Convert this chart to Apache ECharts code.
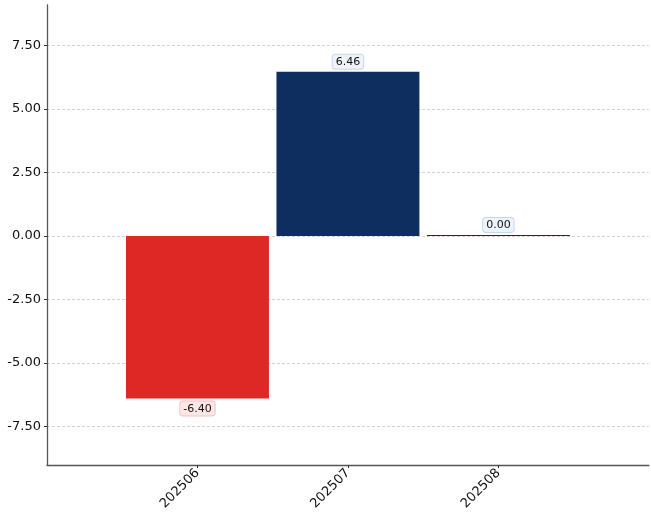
<!DOCTYPE html>
<html>
<head>
<meta charset="utf-8">
<script src="https://cdn.jsdelivr.net/npm/echarts@6/dist/echarts.min.js"></script>
<style>
  html, body { margin: 0; padding: 0; background: #fff; }
  #chart { width: 651px; height: 518px; }
</style>
</head>
<body>
<div id="chart"></div>
<script>
// months, padded with empty slots so the axis runs half a bar wider on each side
var months = ['', '202506', '202507', '202508', ''];
var values = [null, -6.40, 6.46, 0.00, null];
var yTicks = [-7.5, -5, -2.5, 0, 2.5, 5, 7.5];

var posColor = '#0d2e5e';
var negColor = '#de2826';

var barData = values.map(function (v) {
    if (v === null) return null;
    var neg = v < 0;
    return {
        value: v,
        itemStyle: { color: neg ? negColor : posColor },
        label: {
            position: neg ? 'bottom' : 'top',
            backgroundColor: neg ? '#fde6e6' : '#eef3fa',
            borderColor: neg ? '#f3c4c4' : '#c9d6e8'
        }
    };
});

var font = 'DejaVu Sans';

var option = {
    animation: false,
    grid: { left: 47, right: 0, top: 5, bottom: 53 },
    xAxis: {
        type: 'category',
        data: months,
        boundaryGap: false,
        axisLine: { onZero: false, lineStyle: { color: '#555', width: 1.3 } },
        axisTick: {
            length: 3,
            lineStyle: { color: '#333' },
            interval: function (i, v) { return v !== ''; }
        },
        axisLabel: {
            rotate: 45,
            interval: 0,
            margin: 6,
            color: '#111',
            fontFamily: font,
            fontSize: 13
        },
        splitLine: { show: false }
    },
    yAxis: {
        type: 'value',
        min: -9.02,
        max: 9.09,
        axisLine: { show: true, lineStyle: { color: '#555', width: 1.3 } },
        axisTick: {
            show: true,
            length: 3,
            customValues: yTicks,
            lineStyle: { color: '#333' }
        },
        axisLabel: {
            customValues: yTicks,
            color: '#111',
            fontFamily: font,
            fontSize: 13,
            margin: 6,
            formatter: function (v) { return v.toFixed(2); }
        },
        splitLine: {
            show: true,
            customValues: yTicks,
            lineStyle: { color: '#c8c8c8', type: [3, 2], width: 0.8 }
        }
    },
    series: [{
        type: 'bar',
        data: barData,
        barWidth: '95%',
        barMinHeight: 1,
        label: {
            show: true,
            distance: 3,
            color: '#111',
            fontFamily: font,
            fontSize: 11,
            borderWidth: 1,
            borderRadius: 3,
            padding: [2, 3, 1, 3],
            formatter: function (p) { return p.value.toFixed(2); }
        }
    }]
};

var chart = echarts.init(document.getElementById('chart'));
chart.setOption(option);
</script>
</body>
</html>
